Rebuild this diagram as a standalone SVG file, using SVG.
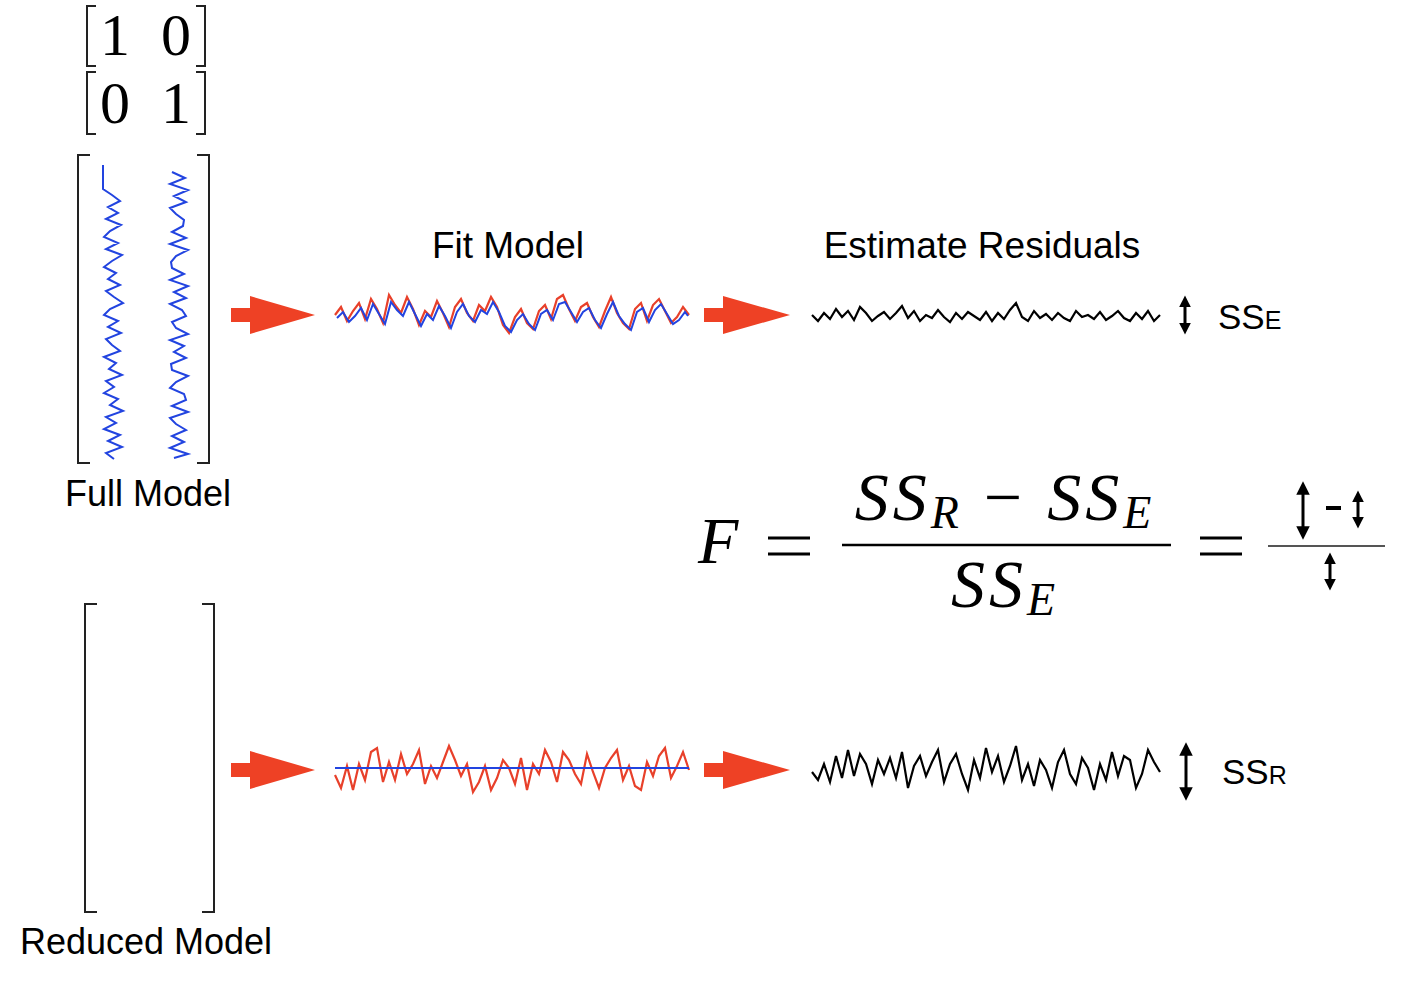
<svg xmlns="http://www.w3.org/2000/svg" width="1422" height="984" viewBox="0 0 1422 984">
<style>
.t{font-family:"Liberation Sans",Arial,sans-serif;fill:#000}
.m{font-family:"Liberation Serif","Times New Roman",serif;fill:#000}
.br{fill:none;stroke:#222;stroke-width:2}
.bl{fill:none;stroke:#2244e0;stroke-width:2}
.rd{fill:none;stroke:#e8402a;stroke-width:2.2}
.bk{fill:none;stroke:#000;stroke-width:2.2}
.ar{fill:#ee4125}
.da{stroke:#000;stroke-width:3;marker-start:url(#h);marker-end:url(#h)}
.ds{stroke:#000;stroke-width:3;marker-start:url(#h2);marker-end:url(#h2)}
</style>
<defs>
<marker id="h" viewBox="0 0 10 10" refX="2" refY="5" markerWidth="4.5" markerHeight="4.5" orient="auto-start-reverse"><path d="M0 0L10 5L0 10z"/></marker>
<marker id="h2" viewBox="0 0 10 10" refX="2" refY="5" markerWidth="4" markerHeight="4" orient="auto-start-reverse"><path d="M0 0L10 5L0 10z"/></marker>
</defs>
<g id="matrix">
<path class="br" d="M96 6H87V66H96M196 6H205V66H196M96 72H87V134H96M196 72H205V134H196"/>
<text class="m" x="115" y="55" font-size="60" text-anchor="middle">1</text>
<text class="m" x="176" y="55" font-size="60" text-anchor="middle">0</text>
<text class="m" x="115" y="123" font-size="60" text-anchor="middle">0</text>
<text class="m" x="176" y="123" font-size="60" text-anchor="middle">1</text>
</g>
<g id="full-model">
<path class="br" d="M90 155H78V463H90M197 155H209V463H197"/>
<polyline class="bl" points="103,165 103,171 103,177 103,183 103,189 112,195 120,201 108,207 118,213 106,219 121,225 110,231 104,237 118,243 106,249 122,255 112,261 104,267 116,273 108,279 120,285 106,291 114,297 123,303 110,309 104,315 118,321 108,327 121,333 106,339 112,345 120,351 104,357 116,363 109,369 122,375 106,381 114,387 104,393 118,399 110,405 123,411 106,417 116,423 104,429 120,435 108,441 122,447 106,453 114,459"/>
<polyline class="bl" points="172,172 185,178 170,184 188,190 174,196 186,202 170,208 176,214 184,220 183,226 172,232 186,238 170,244 188,250 176,256 171,262 172,268 184,274 170,280 188,286 174,292 186,298 170,304 182,310 186,316 172,322 176,328 188,334 170,340 184,346 174,352 186,358 171,364 172,370 188,376 176,382 170,388 184,394 186,400 172,406 188,412 170,418 176,424 186,430 172,436 184,442 170,448 188,454 174,458"/>
<text class="t" x="148" y="506" font-size="36" text-anchor="middle">Full Model</text>
</g>
<g id="reduced-model">
<path class="br" d="M97 604H85V912H97M202 604H214V912H202"/>
<text class="t" x="146" y="954" font-size="36" text-anchor="middle">Reduced Model</text>
</g>
<g id="connectors">
<path class="ar" d="M231 308H250V296L315 315L250 334V322H231z"/>
<path class="ar" d="M704 308H723V296L790 315L723 334V322H704z"/>
<path class="ar" d="M231 763H250V751L315 770L250 789V777H231z"/>
<path class="ar" d="M704 763H723V751L790 770L723 789V777H704z"/>
</g>
<g id="fit-full">
<text class="t" x="508" y="258" font-size="37" text-anchor="middle">Fit Model</text>
<polyline class="rd" points="335,315 341,307 347,321 353,311 359,303 365,319 371,299 377,309 383,323 389,295 395,305 401,313 407,297 413,309 419,325 425,311 431,317 437,301 443,313 449,327 455,307 461,299 467,313 473,321 479,305 485,311 491,297 497,307 503,325 509,333 515,317 521,309 527,323 533,329 539,311 545,305 551,319 557,299 563,295 569,309 575,321 581,307 587,303 593,317 599,327 605,311 611,297 617,313 623,323 629,329 635,309 641,303 647,321 653,305 659,299 665,311 671,323 677,317 683,307 689,315"/>
<polyline class="bl" transform="translate(2,3)" points="335,315 341,309 347,319 353,313 359,305 365,317 371,301 377,311 383,321 389,299 395,307 401,313 407,299 413,311 419,323 425,311 431,317 437,303 443,313 449,325 455,309 461,301 467,313 473,319 479,307 485,311 491,299 497,309 503,323 509,329 515,317 521,311 527,321 533,327 539,311 545,307 551,317 557,301 563,299 569,309 575,319 581,309 587,305 593,317 599,325 605,311 611,299 617,313 623,321 629,327 635,309 641,305 647,319 653,307 659,301 665,311 671,321 677,317 683,309 686,313"/>
</g>
<g id="resid-full">
<text class="t" x="982" y="258" font-size="37" text-anchor="middle">Estimate Residuals</text>
<polyline class="bk" points="812,315 818,321 824,313 830,319 836,309 842,317 848,311 854,320 860,307 866,313 872,321 878,316 884,312 890,319 896,313 902,306 908,318 914,311 920,321 926,315 932,318 938,310 944,317 950,322 956,313 962,319 968,312 974,316 980,320 986,312 992,321 998,313 1004,319 1010,310 1016,303 1022,317 1028,321 1034,311 1040,318 1046,314 1052,320 1058,313 1064,318 1070,321 1076,311 1082,317 1088,315 1094,319 1100,312 1106,320 1112,316 1118,311 1124,318 1130,321 1136,313 1142,319 1148,311 1154,321 1160,315"/>
<line class="ds" x1="1185" y1="305" x2="1185" y2="325"/>
<text class="t" x="1218" y="329" font-size="35">SS<tspan font-size="25">E</tspan></text>
</g>
<g id="fit-reduced">
<polyline class="rd" points="335,775 341,788 347,766 353,790 359,764 365,780 371,752 377,748 383,782 389,762 395,780 401,754 407,774 413,764 419,750 425,784 431,766 437,778 443,762 449,746 455,760 461,776 467,764 473,792 479,782 485,766 491,790 497,778 503,760 509,768 515,784 521,758 527,790 533,764 539,774 545,750 551,762 557,782 563,752 569,760 575,774 581,784 587,754 593,772 599,788 605,768 611,758 617,750 623,780 629,766 635,786 641,790 647,762 653,776 659,756 665,748 671,778 677,766 683,752 689,770"/>
<line x1="335" y1="768" x2="689" y2="768" stroke="#2244e0" stroke-width="2"/>
</g>
<g id="resid-reduced">
<polyline class="bk" points="812,772 818,780 824,764 830,782 836,756 842,778 848,750 854,776 860,754 866,764 872,784 878,760 884,774 890,758 896,778 902,752 908,788 914,766 920,756 926,776 932,762 938,750 944,782 950,764 956,754 962,774 968,790 974,760 980,778 986,748 992,772 998,756 1004,782 1010,766 1016,746 1022,780 1028,764 1034,786 1040,760 1046,770 1052,788 1058,762 1064,750 1070,774 1076,784 1082,758 1088,768 1094,790 1100,764 1106,780 1112,752 1118,776 1124,756 1130,760 1136,788 1142,774 1148,750 1154,762 1160,772"/>
<line class="da" x1="1186" y1="753" x2="1186" y2="790"/>
<text class="t" x="1222" y="784" font-size="35">SS<tspan font-size="25">R</tspan></text>
</g>
<g id="formula">
<text class="m" x="698" y="563" font-size="66" font-style="italic">F</text>
<path d="M768 538H810M768 554H810M1200 538H1242M1200 554H1242" stroke="#000" stroke-width="3"/>
<line x1="842" y1="545" x2="1171" y2="545" stroke="#000" stroke-width="2.5"/>
<text class="m" x="1005" y="520" font-size="68" font-style="italic" text-anchor="middle" letter-spacing="4">SS<tspan font-size="46" dy="8">R</tspan><tspan dy="-8" font-style="normal"> − </tspan>SS<tspan font-size="46" dy="8">E</tspan></text>
<text class="m" x="1005" y="607" font-size="68" font-style="italic" text-anchor="middle" letter-spacing="4">SS<tspan font-size="46" dy="8">E</tspan></text>
<line x1="1268" y1="546" x2="1385" y2="546" stroke="#555" stroke-width="2"/>
<line class="da" x1="1303" y1="492" x2="1303" y2="529"/>
<line x1="1326" y1="508" x2="1341" y2="508" stroke="#000" stroke-width="4"/>
<line class="ds" x1="1358" y1="500" x2="1358" y2="519"/>
<line class="ds" x1="1330" y1="562" x2="1330" y2="581"/>
</g>
</svg>
